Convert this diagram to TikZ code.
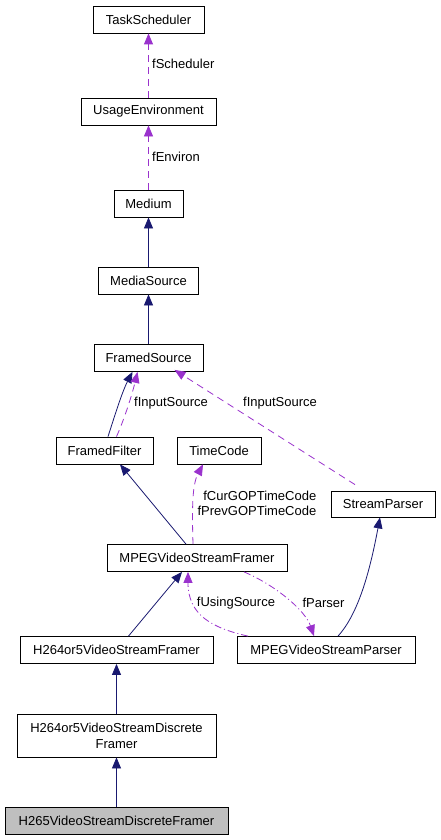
\documentclass[tikz,border=0pt]{standalone}
\usepackage{fontspec}
\setmainfont{Liberation Sans}
\usetikzlibrary{arrows.meta}
\definecolor{edgeblue}{RGB}{25,25,112}
\definecolor{edgepurple}{RGB}{154,50,205}
\definecolor{selgray}{RGB}{191,191,191}
\begin{document}
\begin{tikzpicture}[x=1pt,y=-1pt,
  font=\fontsize{13}{16}\selectfont,
  cls/.style={draw=black, line width=0.8pt, inner sep=0pt, minimum height=27pt, anchor=center, align=center},
  inh/.style={draw=edgeblue, line width=0.8pt, -{Triangle[length=11pt,width=9pt]}, edgeblue},
  use/.style={draw=edgepurple, line width=0.8pt, dash pattern=on 7pt off 5pt, -{Triangle[length=11pt,width=9pt]}, edgepurple},
  usedd/.style={draw=edgepurple, line width=0.8pt, dash pattern=on 7pt off 3pt on 1pt off 3pt, -{Triangle[length=11pt,width=9pt]}, edgepurple},
  lbl/.style={inner sep=0pt, text=black}]
\fill[white] (0,0) rectangle (441,840);
\useasboundingbox (0,0) rectangle (441,840);

% nodes
\node[cls, minimum width=111pt] (ts) at (148.5,19.5) {TaskScheduler};
\node[cls, minimum width=135pt] (ue) at (148.5,111.5) {UsageEnvironment};
\node[cls, minimum width=69pt] (med) at (148.5,203.5) {Medium};
\node[cls, minimum width=100pt] (ms) at (148.5,280.5) {MediaSource};
\node[cls, minimum width=109pt] (fs) at (148.5,358) {FramedSource};
\node[cls, minimum width=97pt] (ff) at (104.5,450.5) {FramedFilter};
\node[cls, minimum width=84pt] (tc) at (219,450.5) {TimeCode};
\node[cls, minimum width=104pt, minimum height=26pt] (sp) at (383,504) {StreamParser};
\node[cls, minimum width=180pt] (mvsf) at (197,558) {MPEGVideoStreamFramer};
\node[cls, minimum width=193pt] (hf) at (116.5,650) {H264or5VideoStreamFramer};
\node[cls, minimum width=178pt] (mvsp) at (326,650) {MPEGVideoStreamParser};
\node[cls, minimum width=199pt, minimum height=43pt] (hdf) at (116.5,735.5) {H264or5VideoStreamDiscrete\\Framer};
\node[cls, minimum width=223pt, fill=selgray] (h265) at (116.5,820.5) {H265VideoStreamDiscreteFramer};

% usage edges (top)
\draw[use] (ue.north) -- (ts.south);
\node[lbl, anchor=west] (lsch) at (152,64) {fScheduler};
\draw[use] (med.north) -- (ue.south);
\node[lbl, anchor=west] (lenv) at (152,157) {fEnviron};

% inheritance vertical
\draw[inh] (ms.north) -- (med.south);
\draw[inh] (fs.north) -- (ms.south);

% FramedFilter -> FramedSource
\draw[inh] ([xshift=3.5pt]ff.north) .. controls (114,418) and (122,392) .. ([xshift=-16pt]fs.south);
\draw[use] ([xshift=12pt]ff.north) .. controls (124,420) and (132,395) .. ([xshift=-11pt]fs.south);
\node[lbl] (lin1) at (171,403) {fInputSource};

% StreamParser -> FramedSource
\draw[use] ([xshift=-28pt,yshift=6pt]sp.north) -- ([xshift=26pt,yshift=2pt]fs.south);
\node[lbl] (lin2) at (280,403) {fInputSource};

% MPEGVideoStreamFramer -> FramedFilter
\draw[inh] ([xshift=-11pt]mvsf.north) -- ([xshift=15.5pt]ff.south);

% MPEGVideoStreamFramer -> TimeCode
\draw[use] ([xshift=-4pt]mvsf.north) .. controls (192,510) and (192,485) .. ([xshift=-16pt]tc.south);
\node[lbl, align=right, anchor=east, font=\fontsize{13}{15.4}\selectfont] (ltc) at (316.5,503.5) {fCurGOPTimeCode\\fPrevGOPTimeCode};

% MPEGVideoStreamParser -> StreamParser
\draw[inh] ([xshift=12pt]mvsp.north) .. controls (360,612) and (371,565) .. ([xshift=-3pt]sp.south);

% H264or5VideoStreamFramer -> MPEGVideoStreamFramer
\draw[inh] ([xshift=12pt]hf.north) -- ([xshift=-15pt]mvsf.south);

% fUsingSource / fParser
\draw[usedd] ([xshift=-78pt]mvsp.north) .. controls (212,628) and (188,615) .. ([xshift=-9pt]mvsf.south);
\node[lbl] (lus) at (236,603) {fUsingSource};
\draw[usedd] ([xshift=47pt]mvsf.south) .. controls (275,585) and (305,610) .. ([xshift=-12pt]mvsp.north);
\node[lbl] (lpar) at (323.5,603) {fParser};

% lower inheritance
\draw[inh] (hdf.north) -- (hf.south);
\draw[inh] (h265.north) -- (hdf.south);
\end{tikzpicture}
\end{document}
